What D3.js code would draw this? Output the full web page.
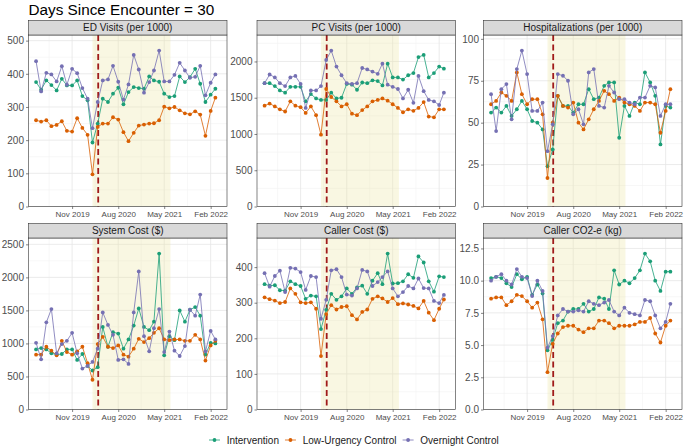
<!DOCTYPE html>
<html>
<head>
<meta charset="utf-8">
<script src="https://cdn.jsdelivr.net/npm/d3@7"></script>
<style>
  body { margin: 0; background: #fff; }
  text { font-family: "Liberation Sans", Arial, sans-serif; }
</style>
</head>
<body>
<svg id="chart" width="685" height="447"></svg>
<script>
// monthly observations, Apr 2019 .. Mar 2022
var months = ["2019-04","2019-05","2019-06","2019-07","2019-08","2019-09","2019-10","2019-11","2019-12",
              "2020-01","2020-02","2020-03","2020-04","2020-05","2020-06","2020-07","2020-08","2020-09",
              "2020-10","2020-11","2020-12","2021-01","2021-02","2021-03","2021-04","2021-05","2021-06",
              "2021-07","2021-08","2021-09","2021-10","2021-11","2021-12","2022-01","2022-02","2022-03"];

var seriesNames = ["Intervention", "Low-Urgency Control", "Overnight Control"];
var xTickLabels = ["2019-11", "2020-08", "2021-05", "2022-02"];

var edIntervention = [375,352,380,366,350,385,365,365,380,333,320,193,250,325,315,340,358,308,345,360,357,355,392,380,376,340,330,333,392,375,390,415,370,315,337,355];
var edLowUrgency   = [260,256,260,242,246,257,228,226,266,237,216,97,240,250,250,269,262,224,197,222,244,247,250,251,260,301,296,300,290,281,278,287,277,213,288,328];
var edOvernight    = [438,347,403,398,377,423,367,415,402,357,325,236,315,380,383,424,376,322,368,457,413,343,375,410,470,377,377,397,433,410,388,391,424,335,373,398];

var pcIntervention = [1700,1700,1660,1600,1570,1650,1650,1650,1450,1550,1490,1470,1470,1570,1490,1500,1690,1680,1610,1710,1700,1740,1730,1670,1970,1780,1780,1750,1810,1840,2060,2090,1780,1840,1930,1900];
var pcLowUrgency   = [1390,1420,1380,1340,1310,1450,1390,1370,1290,1380,1260,990,1620,1510,1450,1380,1410,1280,1260,1330,1380,1450,1470,1490,1460,1410,1360,1300,1340,1320,1360,1440,1240,1230,1340,1340];
var pcOvernight    = [1700,1820,1780,1700,1660,1780,1800,1690,1360,1600,1600,1660,2020,2150,1930,1810,1700,1690,1700,1910,1890,1860,1830,1970,1680,1650,1620,1490,1610,1430,1800,1590,1470,1450,1400,1570];

var hospIntervention = [56,59,56,60,54,58,63,58,51,50,46,24,34,66,60,60,56,61,61,70,64,65,72,74,74,41,60,54,62,61,80,74,66,37,60,59];
var hospLowUrgency   = [61,63,68,66,63,80,67,61,64,64,55,17,50,66,60,59,62,50,46,52,58,63,69,67,63,65,62,61,60,57,62,62,61,44,57,70];
var hospOvernight    = [67,45,70,73,52,82,93,79,57,57,62,33,49,79,78,75,55,58,49,80,82,60,59,72,68,64,64,62,61,65,65,72,71,54,61,61];

var sysIntervention = [910,930,910,850,830,840,910,910,750,840,660,590,640,1250,950,1170,1150,920,1060,1270,1530,1250,1200,1330,2360,820,1110,1050,1500,1330,1510,1550,1420,830,1010,1000];
var sysLowUrgency   = [830,830,950,890,820,1040,870,830,880,950,700,450,990,1100,950,930,970,830,800,920,1070,1020,1080,1160,1230,1060,1050,1060,1060,1040,1040,1130,1060,740,970,1040];
var sysOvernight    = [1010,760,1320,1520,850,990,1040,1160,850,620,660,720,920,1470,1280,1130,750,760,690,1470,2090,1110,880,1230,1520,870,1180,890,810,960,1510,1420,1740,880,1190,1060];

var ccIntervention = [352,348,349,335,334,360,352,347,311,320,318,226,280,325,308,318,340,325,343,348,325,362,383,352,438,354,355,360,380,370,430,413,360,331,374,372];
var ccLowUrgency   = [315,310,306,299,302,340,325,301,299,301,283,150,268,293,281,288,290,265,253,274,281,311,318,312,302,313,296,298,295,291,284,305,272,251,283,309];
var ccOvernight    = [383,345,375,390,330,398,396,386,336,375,372,255,308,391,394,372,323,320,340,392,388,347,358,372,388,340,318,330,347,340,368,341,340,305,299,322];

var co2Intervention = [10.2,10.3,10.2,9.8,9.5,10.5,10.1,10.3,8.9,9.7,9.0,4.6,5.4,6.7,6.9,7.6,7.8,7.8,8.2,7.6,7.8,8.7,8.6,7.8,10.8,9.7,10.0,9.8,10.2,10.8,12.1,11.5,10.0,9.2,10.7,10.7];
var co2LowUrgency   = [8.6,8.7,8.7,8.1,8.4,8.9,8.8,8.4,7.9,8.3,7.0,2.9,5.1,5.9,6.4,6.5,6.5,6.2,6.0,6.3,6.3,6.9,6.9,6.7,6.3,6.5,6.5,6.5,6.6,6.8,6.8,7.1,5.9,5.2,6.5,6.9];
var co2Overnight    = [10.0,10.3,10.5,10.0,9.7,10.9,10.3,10.2,8.8,10.0,9.2,4.8,5.7,7.3,7.8,7.6,7.6,7.7,7.6,8.4,8.2,8.1,8.3,8.5,7.6,7.3,7.9,7.5,7.4,7.3,8.5,8.4,7.3,6.3,6.8,8.2];

var edTicks   = [0,100,200,300,400,500];
var pcTicks   = [0,500,1000,1500,2000];
var hospTicks = [0,25,50,75,100];
var sysTicks  = [0,500,1000,1500,2000,2500];
var ccTicks   = [0,100,200,300,400];
var co2Ticks  = [0,2.5,5,7.5,10,12.5];

var panels = [
    { title: "ED Visits (per 1000)",      ticks: edTicks,   fmt: d3.format("d"),   series: [edIntervention, edLowUrgency, edOvernight] },
    { title: "PC Visits (per 1000)",      ticks: pcTicks,   fmt: d3.format("d"),   series: [pcIntervention, pcLowUrgency, pcOvernight] },
    { title: "Hospitalizations (per 1000)", ticks: hospTicks, fmt: d3.format("d"), series: [hospIntervention, hospLowUrgency, hospOvernight] },
    { title: "System Cost ($)",           ticks: sysTicks,  fmt: d3.format("d"),   series: [sysIntervention, sysLowUrgency, sysOvernight] },
    { title: "Caller Cost ($)",           ticks: ccTicks,   fmt: d3.format("d"),   series: [ccIntervention, ccLowUrgency, ccOvernight] },
    { title: "Caller CO2-e (kg)",         ticks: co2Ticks,  fmt: d3.format(".1f"), series: [co2Intervention, co2LowUrgency, co2Overnight] }
];

var colors = ["#1b9e77", "#d95f02", "#7570b3"];
var parseMonth = d3.timeParse("%Y-%m");
var dates = months.map(parseMonth);
var xTicks = xTickLabels.map(parseMonth);

// layout
var colLeft = [28.5, 257, 483.5],
    panelW = 198.5,
    rowTop = [35, 238],
    panelH = 171.5,
    stripH = 14.5;

var svg = d3.select('#chart');

svg.append('text')
    .attr('x', 28.5)
    .attr('y', 15)
    .attr('font-size', 15.3)
    .attr('fill', '#000')
    .text('Days Since Encounter = 30');

var x = d3.scaleTime()
    .domain([new Date(2019, 1, 15), new Date(2022, 4, 9)])
    .range([0, panelW]);

// minor x grid: midpoints between major breaks
var xMinor = [];
[parseMonth("2019-02")].concat(xTicks).forEach(function(d, i, arr){
    if (i > 0) xMinor.push(new Date((arr[i-1].getTime() + d.getTime()) / 2));
});

var shadeStart = new Date(2020, 2, 1),
    shadeEnd = new Date(2021, 5, 7),
    cutoff = new Date(2020, 3, 4);

panels.forEach(function(p, i){
    var left = colLeft[i % 3],
        top = rowTop[Math.floor(i / 3)];
    var g = svg.append('g').attr('transform', 'translate(' + left + ',' + top + ')');

    var allVals = d3.merge(p.series);
    var y = d3.scaleLinear()
        .domain([0, d3.max(allVals) * 1.1])
        .range([panelH, 0]);

    var step = p.ticks[1] - p.ticks[0];
    var yMinor = p.ticks.map(function(t){ return t + step / 2; })
        .filter(function(t){ return t < y.domain()[1]; });

    g.append('rect').attr('width', panelW).attr('height', panelH).attr('fill', '#fff');

    // grid
    g.selectAll('.ymin').data(yMinor).enter().append('line')
        .attr('x1', 0).attr('x2', panelW)
        .attr('y1', y).attr('y2', y)
        .attr('stroke', '#f2f2f2').attr('stroke-width', 0.6);
    g.selectAll('.xmin').data(xMinor.filter(function(d){ return x(d) > 0 && x(d) < panelW; })).enter().append('line')
        .attr('y1', 0).attr('y2', panelH)
        .attr('x1', x).attr('x2', x)
        .attr('stroke', '#f2f2f2').attr('stroke-width', 0.6);
    g.selectAll('.ymaj').data(p.ticks).enter().append('line')
        .attr('x1', 0).attr('x2', panelW)
        .attr('y1', y).attr('y2', y)
        .attr('stroke', '#e6e6e6').attr('stroke-width', 0.8);
    g.selectAll('.xmaj').data(xTicks).enter().append('line')
        .attr('y1', 0).attr('y2', panelH)
        .attr('x1', x).attr('x2', x)
        .attr('stroke', '#e6e6e6').attr('stroke-width', 0.8);

    // pandemic period
    g.append('rect')
        .attr('x', x(shadeStart))
        .attr('width', x(shadeEnd) - x(shadeStart))
        .attr('height', panelH)
        .attr('fill', '#ebe3a0')
        .attr('opacity', 0.3);

    g.append('line')
        .attr('x1', x(cutoff)).attr('x2', x(cutoff))
        .attr('y1', 0).attr('y2', panelH)
        .attr('stroke', '#a01a1a')
        .attr('stroke-width', 1.8)
        .attr('stroke-dasharray', '6,3.5');

    var line = d3.line()
        .x(function(d, j){ return x(dates[j]); })
        .y(function(d){ return y(d); });

    p.series.forEach(function(vals, k){
        g.append('path')
            .datum(vals)
            .attr('d', line)
            .attr('fill', 'none')
            .attr('stroke', colors[k])
            .attr('stroke-width', 0.8);
        g.selectAll('.pt' + k).data(vals).enter().append('circle')
            .attr('cx', function(d, j){ return x(dates[j]); })
            .attr('cy', y)
            .attr('r', 1.9)
            .attr('fill', colors[k]);
    });

    g.append('rect').attr('width', panelW).attr('height', panelH)
        .attr('fill', 'none').attr('stroke', '#333').attr('stroke-width', 0.6);

    // axes
    var yAxis = g.append('g').call(d3.axisLeft(y).tickValues(p.ticks).tickFormat(p.fmt).tickSize(2.5).tickPadding(2));
    yAxis.select('.domain').remove();
    yAxis.selectAll('line').attr('stroke', '#333').attr('stroke-width', 0.6);
    yAxis.selectAll('text').attr('font-size', 10).attr('fill', '#4d4d4d').attr('font-family', null);

    var xAxis = g.append('g').attr('transform', 'translate(0,' + panelH + ')')
        .call(d3.axisBottom(x).tickValues(xTicks).tickFormat(d3.timeFormat('%b %Y')).tickSize(2.5).tickPadding(2));
    xAxis.select('.domain').remove();
    xAxis.selectAll('line').attr('stroke', '#333').attr('stroke-width', 0.6);
    xAxis.selectAll('text').attr('font-size', 8).attr('fill', '#4d4d4d').attr('font-family', null);

    // strip
    g.append('rect')
        .attr('y', -stripH).attr('width', panelW).attr('height', stripH)
        .attr('fill', '#d9d9d9').attr('stroke', '#333').attr('stroke-width', 0.6);
    g.append('text')
        .attr('x', panelW / 2).attr('y', -stripH / 2)
        .attr('dy', '0.35em')
        .attr('text-anchor', 'middle')
        .attr('font-size', 10)
        .attr('fill', '#1a1a1a')
        .text(p.title);
});

// legend
var legend = svg.append('g').attr('transform', 'translate(0,440)');
var lx = 207;
seriesNames.forEach(function(name, k){
    var item = legend.append('g').attr('transform', 'translate(' + lx + ',0)');
    item.append('line').attr('x1', 2).attr('x2', 13).attr('stroke', colors[k]).attr('stroke-width', 0.8);
    item.append('circle').attr('cx', 7.5).attr('r', 1.9).attr('fill', colors[k]);
    var t = item.append('text')
        .attr('x', 19.7).attr('dy', '0.35em')
        .attr('font-size', 10).attr('fill', '#1a1a1a')
        .text(name);
    lx += 19.7 + t.node().getComputedTextLength() + 4;
});
</script>
</body>
</html>
